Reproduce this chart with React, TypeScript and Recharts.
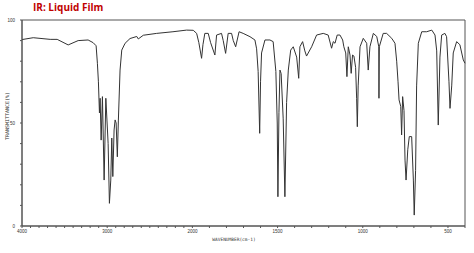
import { LineChart, Line, XAxis, YAxis, ReferenceArea } from 'recharts';

// IR spectrum (wavenumber in cm-1, transmittance in %)
const wavenumbers = [
  4000, 3868, 3669, 3587, 3458, 3341, 3224, 3165, 3130, 3115, 3103, 3091, 3083, 3071, 3056,
  3036, 3016, 3001, 2989, 2974, 2958, 2946, 2934, 2919, 2907, 2895, 2881, 2869, 2849, 2829,
  2790, 2732, 2653, 2635, 2576, 2419, 2228, 2068, 1995, 1975, 1962, 1946, 1938, 1927, 1907,
  1893, 1868, 1858, 1829, 1819, 1805, 1790, 1770, 1760, 1746, 1726, 1702, 1662, 1633, 1623,
  1614, 1605, 1600, 1594, 1574, 1545, 1526, 1510, 1502, 1498, 1492, 1486, 1479, 1467, 1457,
  1447, 1437, 1423, 1408, 1388, 1376, 1369, 1353, 1340, 1330, 1300, 1271, 1232, 1203, 1183,
  1173, 1163, 1150, 1134, 1118, 1111, 1100, 1093, 1085, 1075, 1068, 1060, 1052, 1042, 1036,
  1032, 1027, 1016, 997, 977, 968, 958, 938, 918, 906, 905, 903, 880, 860, 830,
  811, 801, 793, 787, 777, 772, 766, 758, 752, 746, 736, 727, 713, 703, 698,
  690, 684, 674, 654, 625, 595, 576, 566, 557, 547, 537, 518, 508, 494, 488,
  478, 469, 449, 430, 410, 400,
];

const transmittance = [
  90.5, 91.4, 90.6, 90.6, 87.9, 90, 90.3, 89, 87.5, 79, 70, 54.9, 62, 41.7, 62.8,
  22.3, 62, 50, 40, 11, 22.3, 42.7, 24, 46.6, 51.5, 50, 33.6, 51, 75.7, 85.4,
  88.7, 91, 92, 90.8, 92.6, 93.5, 94.3, 95.1, 95, 93.5, 89, 81.4, 88, 93.5, 93.5,
  89, 83, 92.7, 93.5, 90, 83.8, 93.5, 93.5, 90, 87, 94.3, 93.5, 91.9, 90.3, 86,
  75, 45, 70, 84, 90.3, 90.3, 89.5, 75, 50, 14.2, 55, 75.7, 74, 52, 14.2,
  60, 75.7, 85.4, 87, 82, 71.7, 87, 89.5, 85, 82.5, 87, 92.7, 93.5, 92.7, 86.3,
  89.5, 88.7, 92.7, 92.7, 90.3, 87, 84, 72.5, 87, 83, 74.1, 83, 82.5, 77, 62,
  48.2, 68, 87, 91.1, 88.7, 75.7, 87, 93.5, 92, 87, 62, 87, 93.5, 93.5, 91.1,
  88.7, 80, 70, 61.2, 58, 44.2, 62.8, 56, 32, 22.3, 37, 43.4, 43.4, 22.3, 5.3,
  27, 68, 88.7, 94.3, 94.3, 95.1, 92.7, 85, 49, 82, 92.7, 93.5, 91.9, 70, 57.1,
  68, 84, 89.5, 88, 80.6, 79,
];

const xTickWavenumbers = [
  4000, 3900, 3800, 3700, 3600, 3500, 3400, 3300, 3200, 3100, 3000, 2900, 2800, 2700, 2600,
  2500, 2400, 2300, 2200, 2100, 2000, 1900, 1800, 1700, 1600, 1500, 1400, 1300, 1200, 1100,
  1000, 900, 800, 700, 600, 500, 400,
];
const xTickLabels = [4000, 3000, 2000, 1500, 1000, 500];
const yTicks = [0, 10, 20, 30, 40, 50, 60, 70, 80, 90, 100];
const yTickLabels = [0, 50, 100];

// the chart is drawn at half scale above 2000 cm-1
const toU = (wn: number) => (wn >= 2000 ? (4000 - wn) / 2 : 1000 + (2000 - wn));
const fromU = (u: number) => (u <= 1000 ? 4000 - u * 2 : 2000 - (u - 1000));

const data = wavenumbers.map((wn, i) => ({ u: toU(wn), t: transmittance[i] }));
const xTicks = xTickWavenumbers.map(toU);

const tickStyle = { fontSize: 4.5, fill: '#333', fontFamily: 'Liberation Sans' };
const axisColor = '#555';

export default function App() {
  return (
    <div style={{ position: 'absolute', left: 0, top: 0, width: 474, height: 253, background: '#fff' }}>
      <div
        style={{
          position: 'absolute',
          left: 33,
          top: 1,
          fontFamily: '"Open Sans"',
          fontWeight: 700,
          fontSize: 10,
          lineHeight: '12px',
          color: '#c00000',
          whiteSpace: 'nowrap',
        }}
      >
        IR: Liquid Film
      </div>
      <LineChart width={474} height={253} data={data} margin={{ top: 20, right: 9, bottom: 0, left: 0 }}>
        <ReferenceArea x1={0} x2={2600} y1={0} y2={100} fill="none" stroke={axisColor} strokeWidth={1} />
        <XAxis
          type="number"
          dataKey="u"
          domain={[0, 2600]}
          ticks={xTicks}
          interval={0}
          height={27}
          stroke={axisColor}
          tickSize={2}
          tickMargin={2}
          tick={tickStyle}
          tickFormatter={(u: number) => {
            const wn = Math.round(fromU(u));
            return xTickLabels.includes(wn) ? String(wn) : '';
          }}
        />
        <YAxis
          type="number"
          domain={[0, 100]}
          ticks={yTicks}
          interval={0}
          width={22}
          stroke={axisColor}
          tickSize={2}
          tickMargin={5}
          tick={tickStyle}
          tickFormatter={(v: number) => (yTickLabels.includes(v) ? String(v) : '')}
        />
        <Line
          type="linear"
          dataKey="t"
          stroke="#333"
          strokeWidth={1}
          dot={false}
          isAnimationActive={false}
        />
      </LineChart>
      <div
        style={{
          position: 'absolute',
          left: 234,
          top: 239,
          transform: 'translate(-50%, -50%)',
          fontFamily: '"DejaVu Sans Mono"',
          fontSize: 4.5,
          color: '#333',
          whiteSpace: 'nowrap',
        }}
      >
        WAVENUMBER(cm-1)
      </div>
      <div
        style={{
          position: 'absolute',
          left: 6.5,
          top: 116,
          transform: 'translate(-50%, -50%) rotate(-90deg)',
          fontFamily: '"DejaVu Sans Mono"',
          fontSize: 5,
          color: '#333',
          whiteSpace: 'nowrap',
        }}
      >
        TRANSMITTANCE(%)
      </div>
    </div>
  );
}
